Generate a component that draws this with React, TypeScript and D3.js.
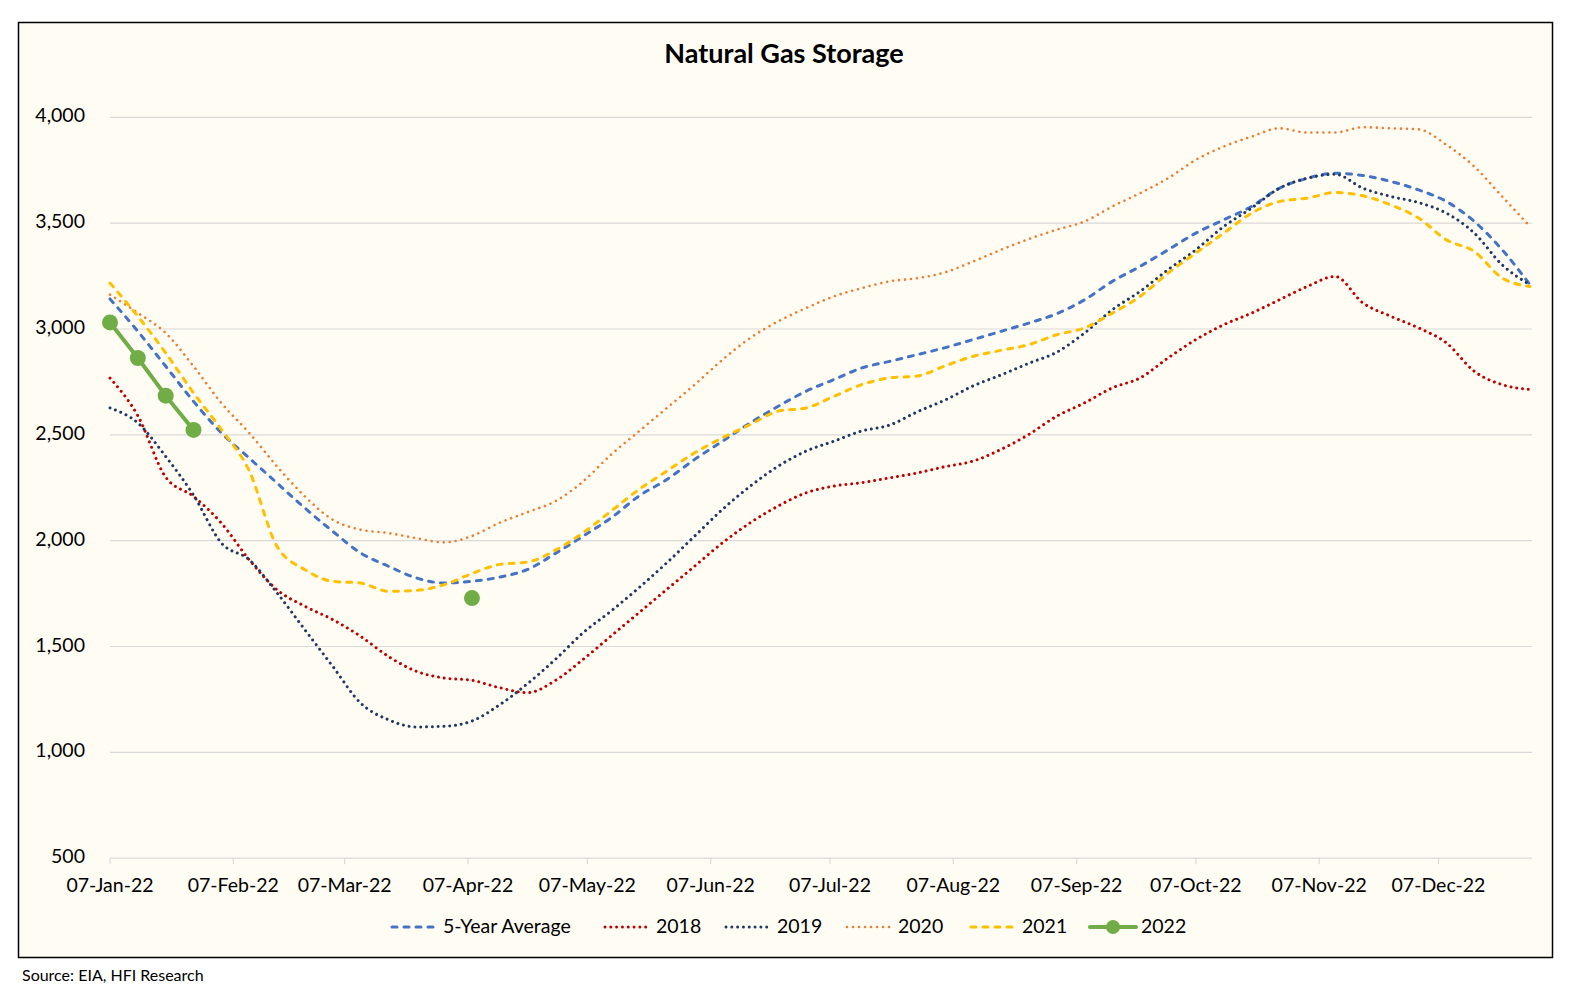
import React from "react";
import * as d3 from "d3";

const title = "Natural Gas Storage";
const source = "Source: EIA, HFI Research";
const startDate = new Date(2022, 0, 7);
const endDate = new Date(2022, 11, 30);
const yTicks = [500, 1000, 1500, 2000, 2500, 3000, 3500, 4000];
const monthTicks = [0, 1, 2, 3, 4, 5, 6, 7, 8, 9, 10, 11];

const fiveYearAvg = [3142, 2989, 2824, 2658, 2509, 2390, 2272, 2154, 2044, 1942, 1879, 1824, 1800, 1808, 1828, 1864, 1940, 2022, 2108, 2211, 2289, 2384, 2470, 2557, 2635, 2706, 2761, 2816, 2847, 2879, 2912, 2950, 2989, 3028, 3072, 3138, 3225, 3296, 3374, 3453, 3516, 3579, 3665, 3712, 3736, 3725, 3697, 3657, 3602, 3508, 3374, 3209];
const y2018 = [2768, 2590, 2300, 2209, 2083, 1910, 1768, 1690, 1627, 1548, 1453, 1383, 1351, 1340, 1305, 1282, 1340, 1440, 1550, 1660, 1770, 1880, 1990, 2085, 2164, 2226, 2258, 2274, 2297, 2320, 2350, 2376, 2431, 2502, 2588, 2651, 2722, 2769, 2863, 2950, 3020, 3075, 3138, 3201, 3248, 3123, 3060, 3005, 2934, 2800, 2737, 2714];
const y2019 = [2627, 2556, 2398, 2215, 1989, 1910, 1753, 1579, 1406, 1233, 1154, 1120, 1123, 1148, 1225, 1325, 1440, 1566, 1668, 1778, 1896, 2022, 2148, 2258, 2352, 2423, 2470, 2518, 2546, 2609, 2665, 2731, 2783, 2838, 2890, 2981, 3091, 3178, 3280, 3374, 3484, 3571, 3665, 3712, 3731, 3665, 3626, 3597, 3547, 3453, 3303, 3209];
const y2020 = [3162, 3076, 2981, 2824, 2650, 2509, 2351, 2209, 2099, 2052, 2036, 2012, 1992, 2022, 2085, 2135, 2187, 2281, 2407, 2517, 2627, 2737, 2855, 2958, 3036, 3099, 3154, 3193, 3225, 3240, 3268, 3319, 3374, 3425, 3469, 3508, 3579, 3642, 3712, 3799, 3862, 3909, 3948, 3928, 3928, 3953, 3948, 3943, 3870, 3767, 3626, 3484];
const y2021 = [3217, 3060, 2887, 2698, 2525, 2330, 1973, 1863, 1808, 1800, 1761, 1765, 1792, 1845, 1888, 1899, 1955, 2038, 2140, 2242, 2329, 2415, 2486, 2549, 2612, 2627, 2682, 2737, 2769, 2778, 2826, 2871, 2899, 2926, 2973, 3005, 3075, 3154, 3264, 3359, 3453, 3547, 3602, 3618, 3645, 3629, 3586, 3524, 3421, 3366, 3241, 3201];
const y2022: (number | null)[] = [3031, 2863, 2685, 2523, null, null, null, null, null, null, null, null, null, 1729];

const seriesNames = ["5-Year Average", "2018", "2019", "2020", "2021", "2022"];
const seriesData = [fiveYearAvg, y2018, y2019, y2020, y2021, y2022];
const seriesColors = ["#4472C4", "#C00000", "#1F3864", "#ED7D31", "#FFC000", "#70AD47"];
const seriesDash = ["5,7", "0.01,5.8", "0.01,5.8", "0.01,6", "5,7", ""];
const seriesWidth = [3, 3, 3, 2.6, 3, 4];
const legendX = [390, 603, 724, 845, 969, 1088];

const FONT = "Lato, 'Open Sans', sans-serif";

export default function App() {
  const left = 110, right = 1530, top = 117.3, bottom = 858.2;
  const x = d3.scaleTime().domain([startDate, endDate]).range([left, right]);
  const y = d3.scaleLinear().domain([500, 4000]).range([bottom, top]);
  const weekDate = (i: number) => d3.timeDay.offset(startDate, i * 7);

  const line = d3
    .line<number | null>()
    .defined((d) => d !== null)
    .x((_, i) => x(weekDate(i)))
    .y((d) => y(d as number))
    .curve(d3.curveMonotoneX);
  const straight = d3
    .line<number | null>()
    .defined((d) => d !== null)
    .x((_, i) => x(weekDate(i)))
    .y((d) => y(d as number));

  const ticks = monthTicks.map((m) => new Date(2022, m, 7));
  const fmt = d3.timeFormat("%d-%b-%y");

  return (
    <svg width={1570} height={990} style={{ position: "absolute", left: 0, top: 0, background: "#ffffff" }}>
      <rect x={18.5} y={22.5} width={1534} height={935} fill="#FFFCF3" stroke="#000" strokeWidth={1.5} />
      <text x={784} y={63} textAnchor="middle" fontFamily={FONT} fontWeight={700} fontSize={27} fill="#000">
        {title}
      </text>
      {yTicks.map((t) => (
        <g key={t}>
          <line x1={left} x2={right + 2} y1={y(t)} y2={y(t)} stroke="#D9D9D9" strokeWidth={1.2} />
          <text x={85} y={y(t) + 5} textAnchor="end" fontFamily={FONT} fontSize={19.5} fill="#000">
            {d3.format(",")(t)}
          </text>
        </g>
      ))}
      {ticks.map((t, i) => (
        <g key={i}>
          <line x1={x(t)} x2={x(t)} y1={bottom} y2={bottom + 6} stroke="#D9D9D9" strokeWidth={1.2} />
          <text x={x(t)} y={892} textAnchor="middle" fontFamily={FONT} fontSize={19.5} fill="#000">
            {fmt(t)}
          </text>
        </g>
      ))}
      {seriesData.map((s, k) => (
        <path
          key={k}
          d={(k === 5 ? straight : line)(s) || ""}
          fill="none"
          stroke={seriesColors[k]}
          strokeWidth={seriesWidth[k]}
          strokeDasharray={seriesDash[k] || undefined}
          strokeLinecap="round"
          strokeLinejoin="round"
        />
      ))}
      {y2022.map((v, i) =>
        v === null ? null : <circle key={i} cx={x(weekDate(i))} cy={y(v)} r={8} fill="#70AD47" />
      )}
      {seriesNames.map((n, k) => (
        <g key={n}>
          <line
            x1={legendX[k] + 2}
            x2={legendX[k] + 48}
            y1={927}
            y2={927}
            stroke={seriesColors[k]}
            strokeWidth={seriesWidth[k]}
            strokeDasharray={seriesDash[k] || undefined}
            strokeLinecap="round"
          />
          {k === 5 && <circle cx={legendX[k] + 25} cy={927} r={7} fill="#70AD47" />}
          <text x={legendX[k] + 53} y={933} fontFamily={FONT} fontSize={19.5} fill="#000">
            {n}
          </text>
        </g>
      ))}
      <text x={22} y={981} fontFamily={FONT} fontSize={16} fill="#000">
        {source}
      </text>
    </svg>
  );
}
